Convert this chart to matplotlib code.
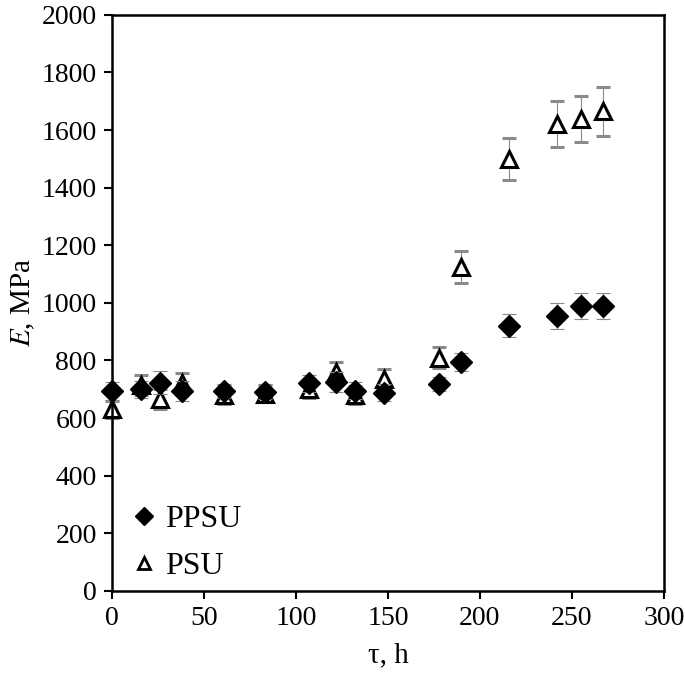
import numpy as np
import matplotlib.pyplot as plt
from matplotlib.lines import Line2D

plt.rcParams['font.family'] = ['Liberation Serif', 'DejaVu Serif']
plt.rcParams['mathtext.fontset'] = 'stix'

# PPSU data (diamonds)
t_ppsu = [0, 16, 26, 38, 61, 83, 107, 122, 132, 148, 178, 190, 216, 242, 255, 267]
e_ppsu = [694, 700, 722, 694, 694, 692, 720, 725, 695, 688, 718, 795, 920, 955, 990, 990]
err_ppsu = [30, 30, 40, 35, 25, 25, 30, 35, 30, 30, 25, 30, 40, 45, 45, 45]

# PSU data (triangles)
t_psu = [0, 16, 26, 38, 61, 83, 107, 122, 132, 148, 178, 190, 216, 242, 255, 267]
e_psu = [630, 715, 665, 720, 680, 685, 700, 760, 680, 735, 810, 1125, 1500, 1620, 1640, 1665]
err_psu = [30, 35, 35, 35, 30, 30, 30, 35, 30, 35, 35, 55, 72, 80, 80, 85]

fig = plt.figure(figsize=(6.85, 6.76), dpi=100)
ax = fig.add_axes([0.1635, 0.126, 0.8055, 0.852])

psu = ax.errorbar(t_psu, e_psu, yerr=err_psu, fmt='^', ms=12, mfc='white', mec='black',
                  mew=2.2, ecolor='#8a8a8a', elinewidth=0.8, capsize=5, capthick=0.8,
                  zorder=2)
ppsu = ax.errorbar(t_ppsu, e_ppsu, yerr=err_ppsu, fmt='D', ms=11, mfc='black', mec='black',
                   ecolor='#8a8a8a', elinewidth=0.8, capsize=5, capthick=0.8,
                   zorder=3)
for c in (psu, ppsu):
    for art in c.get_children():
        art.set_clip_on(False)

ax.set_xlim(0, 300)
ax.set_ylim(0, 2000)
ax.set_xticks(np.arange(0, 301, 50))
ax.set_yticks(np.arange(0, 2001, 200))
ax.tick_params(direction='out', length=6, width=1.5, labelsize=20, pad=5)
for s in ax.spines.values():
    s.set_linewidth(1.8)

ax.set_xlabel('τ, h', fontsize=21, labelpad=8)
ax.set_ylabel('$E$, MPa', fontsize=21, labelpad=3)

handles = [
    Line2D([], [], ls='none', marker='D', ms=9, mfc='black', mec='black'),
    Line2D([], [], ls='none', marker='^', ms=9, mfc='white', mec='black', mew=2),
]
ax.legend(handles, ['PPSU', 'PSU'], loc='lower left', frameon=False,
          fontsize=23, handletextpad=0.05, handlelength=1.2,
          borderaxespad=0.0, labelspacing=0.55, bbox_to_anchor=(0.0, -0.005))

fig.savefig('out.png', dpi=100)
